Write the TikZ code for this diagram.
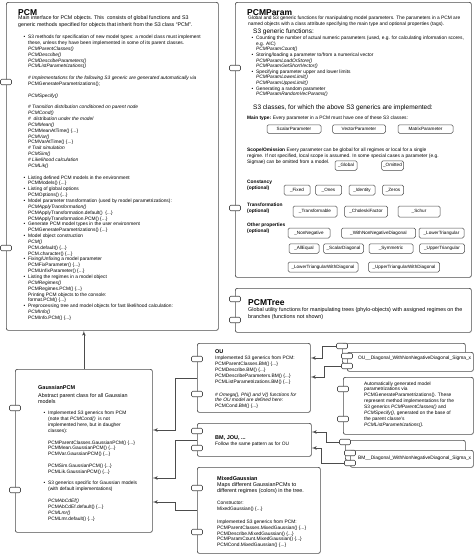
\documentclass[tikz,border=0pt]{standalone}
\usepackage{fontspec}
\setmainfont{Liberation Sans}
\usetikzlibrary{shapes,arrows,positioning}

\definecolor{boxgray}{gray}{0.3}

\newcommand{\pcmbody}{\fontsize{4.85}{5.85}\selectfont}
\newcommand{\pcmparbody}{\fontsize{4.85}{5.6}\selectfont}
\newcommand{\pcmlead}{\fontsize{5.3}{6.2}\selectfont}
\newcommand{\pcmleadb}{\fontsize{5.4}{6.5}\selectfont}
\newcommand{\pcmhead}{\fontsize{6.5}{7.5}\selectfont}
\newcommand{\pcmtitle}{\fontsize{8.5}{10}\selectfont\bfseries}
\newcommand{\pcmsub}{\fontsize{5.5}{6.5}\selectfont\bfseries}
\newcommand{\pcmtag}{\fontsize{4.6}{5.5}\selectfont}
\newcommand{\pcmbul}{\llap{\textbullet\hspace{2.8pt}}}

\tikzstyle{comp} = [rectangle, draw=boxgray, fill=white, line width=0.7pt,
    rounded corners=2pt, inner sep=0pt, anchor=north west]
\tikzstyle{tab} = [rectangle, draw=boxgray, fill=white, line width=0.6pt,
    rounded corners=1.2pt, inner sep=0pt, minimum width=11pt, minimum height=5.5pt]
\tikzstyle{tag} = [rectangle, draw=boxgray, line width=0.5pt, rounded corners=1.5pt,
    inner sep=0pt, minimum height=9.5pt, font=\pcmtag]
\tikzstyle{txt} = [inner sep=0pt, anchor=base west, align=left, font=\pcmbody]
\tikzstyle{txtm} = [txt, anchor=north west]
\tikzstyle{link} = [draw=boxgray, line width=0.7pt, -latex']

\begin{document}
\begin{tikzpicture}[x=1pt, y=-1pt]
		\useasboundingbox [fill=white] (0,0) rectangle (474,555);

		% PCM
		\node [comp, minimum width=212pt, minimum height=328pt] (pcm) at (6,2) {};
		\node [txt, font=\pcmtitle] (pcmname) at (18,15) {PCM};
		\node [txtm, font=\pcmlead] (pcmdesc) at (18,15.9) {Main interface for PCM objects. This\ \ consists of global functions and S3\\generic methods specified for objects that inherit from the S3 class ``PCM''.};
		\node [txtm] (pcmlist) at (28,34.95) {\pcmbul S3 methods for specification of new model types: a model class must implement\\
these, unless they have been implemented in some of its parent classes.\\
\textit{PCMParentClasses()}\\
\textit{PCMDescribe()}\\
\textit{PCMDescribeParameters()}\\
\textit{PCMListParametrizations()}\\[5.85pt]
\textit{\# Implementations for the following S3 generic are generated automatically via}\\
PCMGenerateParametrizations();\\[5.85pt]
\textit{PCMSpecify()}\\[5.85pt]
\textit{\# Transition distribution conditioned on parent node}\\
\textit{PCMCond()}\\
\textit{\#\ \ distribution under the model}\\
\textit{PCMMean()}\\
PCMMeanAtTime() \{...\}\\
\textit{PCMVar()}\\
PCMVarAtTime() \{...\}\\
\textit{\# Trait simulation}\\
\textit{PCMSim()}\\
\textit{\# Likelihood calculation}\\
\textit{PCMLik()}\\[5.85pt]
\pcmbul Listing defined PCM models in the environment\\
PCMModels() \{...\}\\
\pcmbul Listing of global options\\
PCMOptions() \{...\}\\
\pcmbul Model parameter transformation (used by model parametrizations):\\
\textit{PCMApplyTransformation()}\\
PCMApplyTransformation.default()\ \ \{...\}\\
PCMApplyTransformation.PCM() \{...\}\\
\pcmbul Generate PCM model types in the user environment\\
PCMGenerateParametrizations() \{...\}\\
\pcmbul Model object construction\\
\textit{PCM()}\\
PCM.default() \{...\}\\
PCM.character() \{...\}\\
\pcmbul Fixing/Unfixing a model parameter\\
PCMFixParameter() \{...\}\\
PCMUnfixParameter() \{...\}\\
\pcmbul Listing the regimes in a model object\\
\textit{PCMRegimes()}\\
PCMRegimes.PCM() \{...\}\\
Printing PCM objects to the console:\\
format.PCM() \{...\}\\
\pcmbul Preprocessing tree and model objects for fast likelihood calculation:\\
\textit{PCMInfo()}\\
PCMInfo.PCM() \{...\}};

		% PCMParam
		\node [comp, minimum width=236pt, minimum height=275pt] (param) at (235,2) {};
		\node [txt, font=\pcmtitle] (paramname) at (247,15) {PCMParam};
		\node [txtm] (paramdesc) at (248,16.06) {Global and S3 generic functions for manipulating model parameters. The parameters in a PCM are\\named objects with a class attribute specifying the main type and optional properties (tags).};
		\node [txt, font=\pcmhead] (paramgen) at (253,33.2) {S3 generic functions:};
		\node [txtm, font=\pcmparbody] (paramlist) at (256,36.06) {\pcmbul Counting the number of actual numeric parameters (used, e.g. for calculating information scores,\\
e.g. AIC)\\
\textit{PCMParamCount()}\\
\pcmbul Storing/loading a parameter to/from a numerical vector\\
\textit{PCMParamLoadOrStore()}\\
\textit{PCMParamGetShortVector()}\\
\pcmbul Specifying parameter upper and lower limits\\
\textit{PCMParamLowerLimit()}\\
\textit{PCMParamUpperLimit()}\\
\pcmbul Generating a random parameter\\
\textit{PCMParamRandomVecParams()}};
		\node [txt, font=\pcmhead] (paramcls) at (253,109.2) {S3 classes, for which the above S3 generics are implemented:};
		\node [txt] (maintype) at (247,119.6) {\textbf{Main type:} Every parameter in a PCM must have one of these S3 classes:};
		\node [tag, minimum width=54pt, minimum height=8.5pt] (scalar) at (294,129) {ScalarParameter};
		\node [tag, minimum width=53pt, minimum height=8.5pt, right=11pt of scalar] (vector) {VectorParameter};
		\node [tag, minimum width=55pt, minimum height=8.5pt, right=12pt of vector] (matrix) {MatrixParameter};

		\node [txtm] (scope) at (247,148.06) {\textbf{Scope/Omission} Every parameter can be global for all regimes or local for a single\\regime. If not specified, local scope is assumed. In some special cases a parameter (e.g.\\Sigmae) can be omitted from a model.};
		\node [tag, minimum width=22pt] (global) at (346,165.5) {\_Global};
		\node [tag, minimum width=22pt, right=24pt of global] (omitted) {\_Omitted};

		\node [txtm, font={\pcmbody\bfseries}] (const) at (247,180.06) {Constancy\\(optional)};
		\node [tag, minimum width=26pt, minimum height=10pt] (fixed) at (297,190) {\_Fixed};
		\node [tag, minimum width=26pt, minimum height=10pt, right=5pt of fixed] (ones) {\_Ones};
		\node [tag, minimum width=26pt, minimum height=10pt, right=7pt of ones] (identity) {\_Identity};
		\node [tag, minimum width=21pt, minimum height=10pt, right=7pt of identity] (zeros) {\_Zeros};

		\node [txtm, font={\pcmbody\bfseries}] (transf) at (247,203.06) {Transformation\\(optional)};
		\node [tag, minimum width=44pt, minimum height=11pt] (transformable) at (315,211.5) {\_Transformable};
		\node [tag, minimum width=43pt, minimum height=11pt, right=7pt of transformable] (choleski) {\_CholeskiFactor};
		\node [tag, minimum width=42pt, minimum height=11pt, right=10pt of choleski] (schur) {\_Schur};

		\node [txtm, font={\pcmbody\bfseries}] (other) at (247,222.46) {Other properties\\(optional)};
		\node [tag, minimum width=42pt, minimum height=10pt] (nonneg) at (309,233) {\_NonNegative};
		\node [tag, minimum width=74pt, minimum height=10pt, right=11pt of nonneg] (withnonneg) {\_WithNonNegativeDiagonal};
		\node [tag, minimum width=45pt, minimum height=10pt, right=3pt of withnonneg] (lowertri) {\_LowerTriangular};
		\node [tag, minimum width=30pt] (allequal) at (304,248.5) {\_AllEqual};
		\node [tag, minimum width=40pt, right=4pt of allequal] (scalardiag) {\_ScalarDiagonal};
		\node [tag, minimum width=44pt, right=5pt of scalardiag] (symmetric) {\_Symmetric};
		\node [tag, minimum width=45pt, right=6pt of symmetric] (uppertri) {\_UpperTriangular};
		\node [tag, minimum width=70pt, minimum height=10pt] (lowertridiag) at (323,267) {\_LowerTriangularWithDiagonal};
		\node [tag, minimum width=71pt, minimum height=10pt, right=10pt of lowertridiag] (uppertridiag) {\_UpperTriangularWithDiagonal};

		% PCMTree
		\node [comp, minimum width=236pt, minimum height=44pt] (tree) at (235,288) {};
		\node [txt, font=\pcmtitle] (treename) at (248,305) {PCMTree};
		\node [txtm, font=\pcmleadb] (treedesc) at (248,307.86) {Global utility functions for manipulating trees (phylo-objects) with assigned regimes on the\\branches (functions not shown)};

		% GaussianPCM
		\node [comp, minimum width=137pt, minimum height=163pt] (gauss) at (15,369) {};
		\node [txt, font=\pcmsub] (gaussname) at (38,389) {GaussianPCM};
		\node [txtm, font=\pcmleadb] (gaussdesc) at (38,393.06) {Abstract parent class for all Gaussian\\models};
		\node [txtm] (gausslist) at (48,411.06) {\pcmbul Implemented S3 generics from PCM\\
(note that \textit{PCMCond()}\ \ is not\\
implemented here, but in daugher\\
classes):\\[5.85pt]
PCMParentClasses.GaussianPCM() \{...\}\\
PCMMean.GaussianPCM() \{...\}\\
PCMVar.GaussianPCM() \{...\}\\[5.85pt]
PCMSim.GaussianPCM() \{...\}\\
PCMLik.GaussianPCM() \{...\}\\[5.85pt]
\pcmbul S3 generics specific for Gaussian models\\
(with default implementations)\\[5.85pt]
\textit{PCMAbCdEf()}\\
PCMAbCdEf.default() \{...\}\\
\textit{PCMLmr()}\\
PCMLmr.default() \{...\}};

		% OU
		\node [comp, minimum width=113pt, minimum height=69pt] (ou) at (197,343) {};
		\node [txt, font=\pcmsub] (ouname) at (215,353) {OU};
		\node [txtm] (oulist) at (215,356.06) {Implemented S3 generics from PCM:\\
PCMParentClasses.BM() \{...\}\\
PCMDescribe.BM() \{...\}\\
PCMDescribeParameters.BM() \{...\}\\
PCMListParametrizations.BM() \{...\}\\[7pt]
\textit{\# Omega(), Phi() and V() functions for}\\
\textit{the OU model are defined here:}\\
PCMCond.BM() \{...\}};

		% BM, JOU
		\node [comp, minimum width=114pt, minimum height=33pt] (bm) at (197,423) {};
		\node [txt, font=\pcmsub] (bmname) at (215,439) {BM, JOU, ...};
		\node [txt] (bmdesc) at (215,445.6) {Follow the same pattern as for OU};

		% MixedGaussian
		\node [comp, minimum width=123pt, minimum height=86pt] (mixed) at (197,467) {};
		\node [txt, font=\pcmsub] (mixedname) at (217,480) {MixedGaussian};
		\node [txtm, font=\pcmleadb] (mixeddesc) at (217,482.26) {Maps different GaussianPCMs to\\different regimes (colors) in the tree.};
		\node [txtm] (mixedlist) at (217,501.06) {Constructor:\\
MixedGaussian() \{...\}\\[7pt]
Implemented S3 generics from PCM:\\
PCMParentClasses.MixedGaussian() \{...\}\\
PCMDescribe.MixedGaussian() \{...\}\\
PCMParamCount.MixedGaussian() \{...\}\\
PCMCond.MixedGaussian() \{...\}};

		% generated parametrizations
		\node [comp, minimum width=123pt, minimum height=20pt] (oustackback) at (342,343) {};
		\node [comp, minimum width=126pt, minimum height=19pt] (oustack) at (347,352) {};
		\node [txt] (oustackname) at (358,359.6) {OU\_\_Diagonal\_WithNonNegativeDiagonal\_Sigma\_x};
		\node [comp, minimum width=130pt, minimum height=57pt] (auto) at (343,377) {};
		\node [txtm] (autotext) at (364,381.36) {Automatically generated model\\
parametrizations via\\
PCMGenerateParametrizations(). These\\
represent method implementations for the\\
S3 generics \textit{PCMParentClasses()} and\\
\textit{PCMSpecify()}, generated on the base of\\
the parent classe's\\
\textit{PCMListParametrizations()}.};
		\node [comp, minimum width=120pt, minimum height=20pt] (bmstackback) at (345,440) {};
		\node [comp, minimum width=123pt, minimum height=17pt] (bmstack) at (350,450) {};
		\node [txt] (bmstackname) at (358,459.6) {BM\_\_Diagonal\_WithNonNegativeDiagonal\_Sigma\_x};

		% connectors
		\path [link] (gauss.north) -- (gauss.north |- pcm.south);
		\path [link] (ou.west |- 0,378) -- ++(-22,0) |- (gauss.east |- 0,430);
		\path [link] (bm.west |- 0,440) -- ++(-22,0) |- (gauss.east |- 0,478);
		\path [link] (mixed.west |- 0,510) -- ++(-22,0) |- (gauss.east |- 0,502);

		% tabs
		\node [tab] (pcmta) at (6,82) {};
		\node [tab] (pcmtb) at (6,248) {};
		\node [tab] (paramta) at (235,68) {};
		\node [tab] (paramtb) at (235,208) {};
		\node [tab] (treeta) at (235,299) {};
		\node [tab] (treetb) at (235,320) {};
		\node [tab] (gaussta) at (15,408) {};
		\node [tab] (gausstb) at (15,490) {};
		\node [tab] (outa) at (197,359) {};
		\node [tab] (outb) at (197,394) {};
		\node [tab] (bmta) at (197,431) {};
		\node [tab] (bmtb) at (197,448) {};
		\node [tab] (mixedta) at (197,488) {};
		\node [tab] (mixedtb) at (197,532) {};
		\node [tab] (ostta) at (342,346) {};
		\node [tab] (osttb) at (347,356) {};
		\node [tab] (osttc) at (347,366) {};
		\node [tab] (autota) at (343,389) {};
		\node [tab] (autotb) at (343,419) {};
		\node [tab] (bstta) at (345,442) {};
		\node [tab] (bsttb) at (350,453) {};
		\node [tab] (bsttc) at (350,463) {};

		\path [link] (ostta.west) -- ++(-14,0) |- (ou.east |- 0,358);
		\path [link] (osttc.west) -- ++(-17,0) |- (ou.east |- 0,377);
		\path [link] (bstta.west) -- ++(-13,0) |- (bm.east |- 0,432);
		\path [link] (bsttc.west) -- ++(-23,0) |- (bm.east |- 0,448);
	\end{tikzpicture}
\end{document}
